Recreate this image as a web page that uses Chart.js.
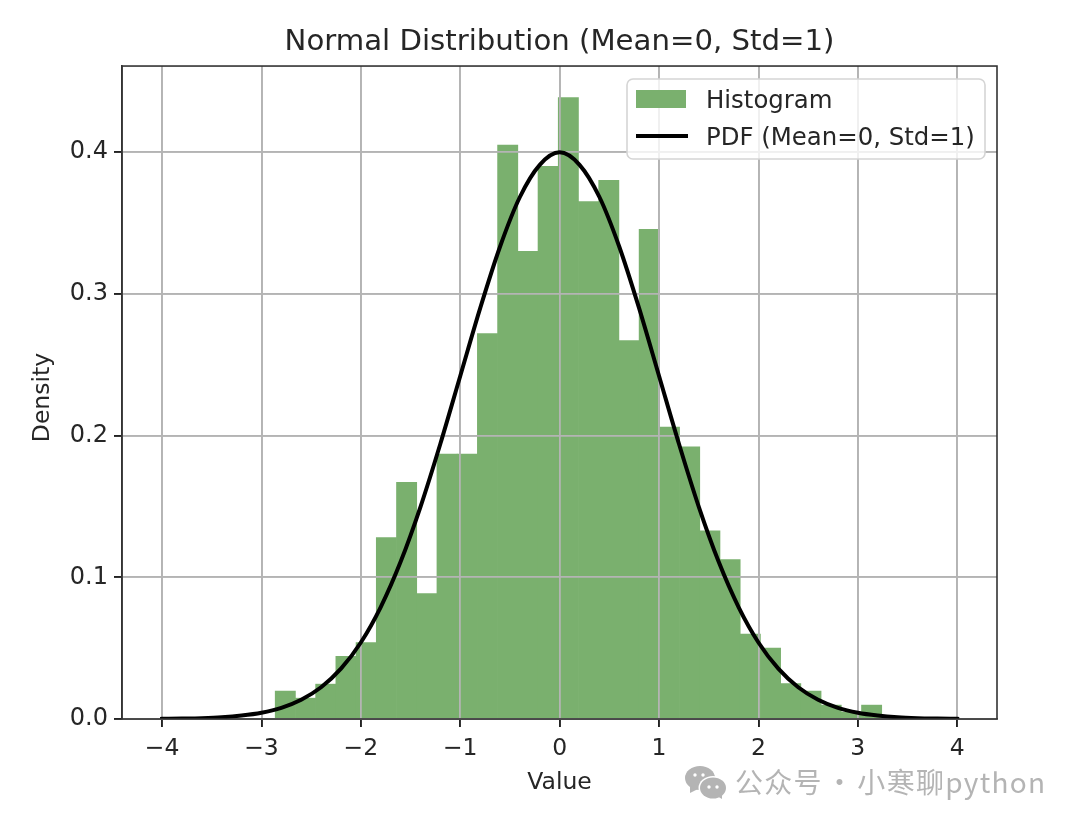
<!DOCTYPE html>
<html>
<head>
<meta charset="utf-8">
<style>
  html, body { margin: 0; padding: 0; background: #fff; }
  canvas { display: block; }
</style>
<script src="https://cdn.jsdelivr.net/npm/chart.js@4/dist/chart.umd.js"></script>
</head>
<body>
<canvas id="graph" width="1080" height="826"></canvas>
<script>
const chartTitle = "Normal Distribution (Mean=0, Std=1)";
const xLabel = "Value";
const yLabel = "Density";
const histLabel = "Histogram";
const pdfLabel = "PDF (Mean=0, Std=1)";
const watermark = "公众号 · 小寒聊python";

// bin centres and heights
const binCenters = [-2.76, -2.5566, -2.3532, -2.1498, -1.9464, -1.743, -1.5396, -1.3362, -1.1328, -0.9294,
  -0.726, -0.5226, -0.3192, -0.1158, 0.0876, 0.291, 0.4944, 0.6978, 0.9012, 1.1046,
  1.308, 1.5114, 1.7148, 1.9182, 2.1216, 2.325, 2.5284, 2.7318, 2.9352, 3.1386];
const binDensity = [0.0197, 0.0147, 0.0246, 0.0443, 0.054, 0.128, 0.167, 0.0885, 0.187, 0.187,
  0.272, 0.405, 0.33, 0.39, 0.4385, 0.365, 0.38, 0.267, 0.3455, 0.206,
  0.192, 0.1328, 0.1125, 0.06, 0.05, 0.025, 0.0197, 0.0098, 0.0049, 0.0098];

const pdfX = [-4, -3.8, -3.6, -3.4, -3.2, -3, -2.8, -2.6, -2.4, -2.2, -2, -1.8, -1.6, -1.4, -1.2, -1, -0.8, -0.6, -0.4, -0.2,
  0, 0.2, 0.4, 0.6, 0.8, 1, 1.2, 1.4, 1.6, 1.8, 2, 2.2, 2.4, 2.6, 2.8, 3, 3.2, 3.4, 3.6, 3.8, 4];
const pdfY = [0.0001, 0.0003, 0.0006, 0.0012, 0.0024, 0.0044, 0.0079, 0.0136, 0.0224, 0.0355, 0.054, 0.079, 0.1109, 0.1497, 0.1942, 0.242, 0.2897, 0.3332, 0.3683, 0.391,
  0.3998, 0.391, 0.3683, 0.3332, 0.2897, 0.242, 0.1942, 0.1497, 0.1109, 0.079, 0.054, 0.0355, 0.0224, 0.0136, 0.0079, 0.0044, 0.0024, 0.0012, 0.0006, 0.0003, 0.0001];

const FONT = "'DejaVu Sans'";
const textColor = "#262626";
const histColor = "#7ab06e";

// grid goes over the bars but under the curve, same as matplotlib
const gridOverBars = {
  id: "gridOverBars",
  beforeDatasetDraw(chart, args) {
    if (args.index === 0) {
      chart.scales.x.drawGrid(chart.chartArea);
      chart.scales.y.drawGrid(chart.chartArea);
    }
  }
};

// the y title sits a little below the middle of the axis in the original
const nudgeYTitle = {
  id: "nudgeYTitle",
  beforeDraw(chart) {
    const scale = chart.scales.y;
    if (scale.nudged) return;
    const drawTitle = scale.drawTitle;
    scale.drawTitle = function () {
      chart.ctx.save();
      chart.ctx.translate(0, 5);
      drawTitle.call(scale);
      chart.ctx.restore();
    };
    scale.nudged = true;
  }
};

// top and right spines, chart.js only draws the axis side
const framePlugin = {
  id: "frame",
  afterDatasetsDraw(chart) {
    const { ctx, chartArea: a } = chart;
    ctx.save();
    ctx.strokeStyle = "#333";
    ctx.lineWidth = 1.6;
    ctx.strokeRect(a.left, a.top, a.right - a.left, a.bottom - a.top);
    ctx.restore();
  }
};

// matplotlib style legend sits inside the axes
const legendPlugin = {
  id: "insideLegend",
  afterDraw(chart) {
    const { ctx } = chart;
    const sets = chart.data.datasets;
    ctx.save();
    ctx.fillStyle = "rgba(255,255,255,0.8)";
    ctx.strokeStyle = "#d5d5d5";
    ctx.lineWidth = 1.6;
    ctx.beginPath();
    ctx.roundRect(627, 79, 358, 80, 6);
    ctx.fill();
    ctx.stroke();
    ctx.fillStyle = sets[1].backgroundColor;
    ctx.fillRect(636, 90, 50, 18);
    ctx.strokeStyle = "#000";
    ctx.lineWidth = 4;
    ctx.beginPath();
    ctx.moveTo(636, 136);
    ctx.lineTo(688, 136);
    ctx.stroke();
    ctx.fillStyle = textColor;
    ctx.font = "24.4px " + FONT;
    ctx.textBaseline = "alphabetic";
    ctx.fillText(sets[1].label, 706, 108);
    ctx.fillText(sets[0].label, 706, 145);
    ctx.restore();
  }
};

// grey account mark in the bottom corner
const watermarkPlugin = {
  id: "watermark",
  afterDraw(chart) {
    const { ctx } = chart;
    ctx.save();
    ctx.fillStyle = "#b4b4b4";
    ctx.beginPath();
    ctx.ellipse(700, 778, 15, 12, 0, 0, Math.PI * 2);
    ctx.fill();
    ctx.beginPath();
    ctx.moveTo(690, 786);
    ctx.lineTo(690, 793);
    ctx.lineTo(698, 789);
    ctx.fill();
    ctx.fillStyle = "#fff";
    ctx.beginPath();
    ctx.ellipse(713, 788, 14.5, 12, 0, 0, Math.PI * 2);
    ctx.fill();
    ctx.fillStyle = "#b4b4b4";
    ctx.beginPath();
    ctx.ellipse(713, 788, 13, 10.5, 0, 0, Math.PI * 2);
    ctx.fill();
    ctx.beginPath();
    ctx.moveTo(717, 796);
    ctx.lineTo(722, 799);
    ctx.lineTo(722, 794);
    ctx.fill();
    ctx.fillStyle = "#fff";
    [[695, 775], [703, 775], [709, 787], [717, 787]].forEach(p => {
      ctx.beginPath();
      ctx.arc(p[0], p[1], 1.7, 0, Math.PI * 2);
      ctx.fill();
    });
    ctx.fillStyle = "#b4b4b4";
    ctx.font = "28px 'Noto Sans CJK SC'";
    ctx.letterSpacing = "1.3px";
    ctx.wordSpacing = "-5px";
    ctx.textBaseline = "alphabetic";
    ctx.fillText(watermark, 735, 793);
    ctx.restore();
  }
};

const minusTick = (v, digits) => v.toFixed(digits).replace("-", "\u2212");

new Chart(document.getElementById("graph"), {
  type: "bar",
  plugins: [gridOverBars, nudgeYTitle, framePlugin, legendPlugin, watermarkPlugin],
  data: {
    datasets: [
      {
        type: "line",
        label: pdfLabel,
        data: pdfX.map((x, i) => ({ x: x, y: pdfY[i] })),
        borderColor: "#000",
        borderWidth: 4,
        pointRadius: 0,
        cubicInterpolationMode: "monotone",
        borderCapStyle: "square",
        order: 1
      },
      {
        type: "bar",
        label: histLabel,
        data: binCenters.map((x, i) => ({ x: x, y: binDensity[i] })),
        backgroundColor: histColor,
        borderWidth: 0,
        barPercentage: 1,
        categoryPercentage: 1,
        grouped: false,
        order: 2
      }
    ]
  },
  options: {
    responsive: false,
    animation: false,
    layout: { padding: { left: 0, right: 83, top: 0, bottom: 0 } },
    plugins: {
      legend: { display: false },
      tooltip: { enabled: false },
      title: {
        display: true,
        fullSize: false,
        text: chartTitle,
        color: textColor,
        font: { family: FONT, size: 29.2, weight: "normal" },
        padding: { top: 25, bottom: 6 }
      }
    },
    scales: {
      x: {
        type: "linear",
        min: -4.403,
        max: 4.4,
        offset: false,
        afterFit: s => { s.height = 107; },
        grid: { offset: false, color: "#b4b4b4", lineWidth: 1.8, tickColor: "#222", tickWidth: 1.6, tickLength: 8 },
        border: { color: "#333", width: 1.6 },
        ticks: {
          stepSize: 1,
          includeBounds: false,
          maxRotation: 0,
          color: textColor,
          padding: 8,
          font: { family: FONT, size: 23.5 },
          callback: v => minusTick(v, 0)
        },
        title: {
          display: true,
          text: xLabel,
          color: textColor,
          font: { family: FONT, size: 23.5 },
          padding: { top: 0, bottom: 29 }
        }
      },
      y: {
        min: 0,
        max: 0.4607,
        afterFit: s => { s.width = 122; },
        grid: { color: "#b4b4b4", lineWidth: 1.8, tickColor: "#222", tickWidth: 1.6, tickLength: 8 },
        border: { color: "#333", width: 1.6 },
        ticks: {
          stepSize: 0.1,
          includeBounds: false,
          color: textColor,
          padding: 6,
          font: { family: FONT, size: 24 },
          callback: v => minusTick(v, 1)
        },
        title: {
          display: true,
          text: yLabel,
          color: textColor,
          font: { family: FONT, size: 23.5 },
          padding: { top: 29, bottom: 0 }
        }
      }
    }
  }
});
</script>
</body>
</html>
